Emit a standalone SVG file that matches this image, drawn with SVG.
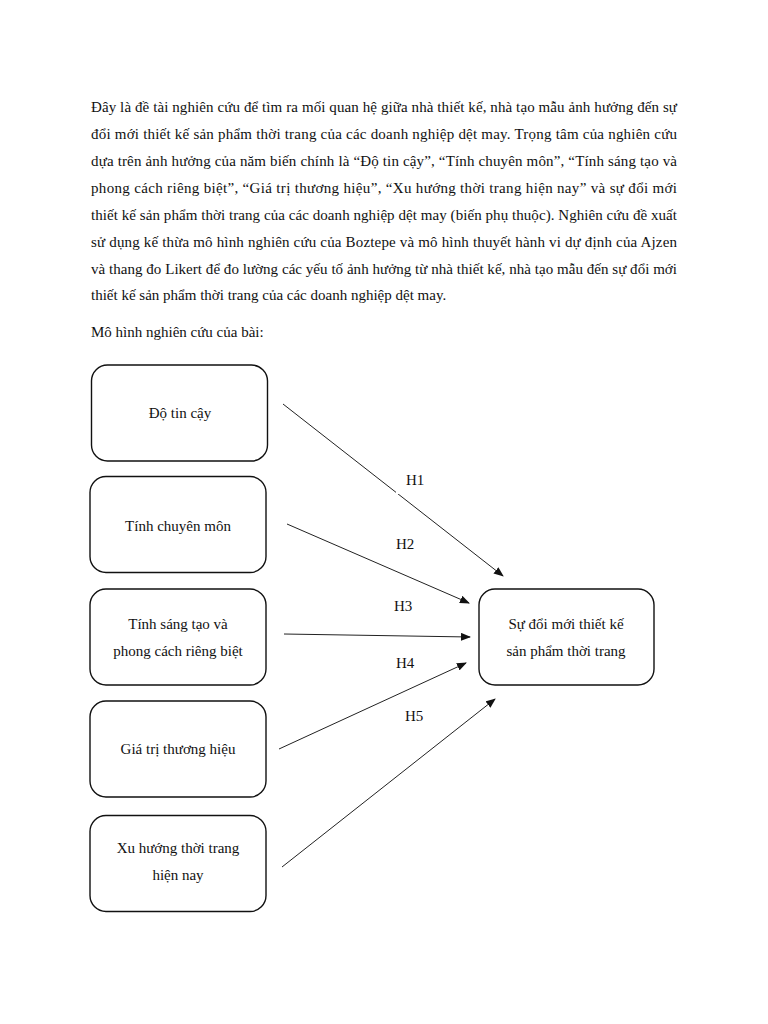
<svg xmlns="http://www.w3.org/2000/svg" width="768" height="1024" viewBox="0 0 768 1024">
<style>
text{font-family:"Liberation Serif","Times New Roman",serif;font-size:15px;fill:#111}
.c{text-anchor:middle}
.box{fill:#fff;stroke:#111;stroke-width:1.4}
.ln{stroke:#222;stroke-width:1;fill:none;marker-end:url(#ah)}
</style>
<defs>
<marker id="ah" markerWidth="10" markerHeight="8" refX="9" refY="4" orient="auto" markerUnits="userSpaceOnUse">
<path d="M0,0 L10,4 L0,8 Z" fill="#111"/>
</marker>
</defs>
<rect width="768" height="1024" fill="#fff"/>
<g id="paragraph">
<text x="91" y="112" textLength="586" lengthAdjust="spacing">Đây là đề tài nghiên cứu để tìm ra mối quan hệ giữa nhà thiết kế, nhà tạo mẫu ảnh hưởng đến sự</text>
<text x="91" y="139" textLength="586" lengthAdjust="spacing">đổi mới thiết kế sản phẩm thời trang của các doanh nghiệp dệt may. Trọng tâm của nghiên cứu</text>
<text x="91" y="166" textLength="586" lengthAdjust="spacing">dựa trên ảnh hưởng của năm biến chính là “Độ tin cậy”, “Tính chuyên môn”, “Tính sáng tạo và</text>
<text x="91" y="193" textLength="586" lengthAdjust="spacing">phong cách riêng biệt”, “Giá trị thương hiệu”, “Xu hướng thời trang hiện nay” và sự đổi mới</text>
<text x="91" y="220" textLength="586" lengthAdjust="spacing">thiết kế sản phẩm thời trang của các doanh nghiệp dệt may (biến phụ thuộc). Nghiên cứu đề xuất</text>
<text x="91" y="247" textLength="586" lengthAdjust="spacing">sử dụng kế thừa mô hình nghiên cứu của Boztepe và mô hình thuyết hành vi dự định của Ajzen</text>
<text x="91" y="274" textLength="586" lengthAdjust="spacing">và thang đo Likert để đo lường các yếu tố ảnh hưởng từ nhà thiết kế, nhà tạo mẫu  đến sự đổi mới</text>
<text x="91" y="300">thiết kế sản phẩm thời trang của các doanh nghiệp dệt may.</text>
<text x="91" y="337">Mô hình nghiên cứu của bài:</text>
</g>
<g id="connectors">
<line class="ln" x1="283" y1="404" x2="503" y2="576"/>
<line class="ln" x1="287" y1="524" x2="469" y2="603"/>
<line class="ln" x1="284" y1="634" x2="470" y2="637"/>
<line class="ln" x1="279" y1="749" x2="466" y2="663"/>
<line class="ln" x1="282" y1="867" x2="495" y2="699"/>
<rect x="396" y="488" width="10" height="6" fill="#fff"/>
<text x="406" y="485">H1</text>
<text x="396" y="549">H2</text>
<text x="394" y="611">H3</text>
<text x="396" y="668">H4</text>
<text x="405" y="721">H5</text>
</g>
<g id="n1">
<rect class="box" x="91.5" y="365" width="176" height="96" rx="16"/>
<text class="c" x="180" y="418">Độ tin cậy</text>
</g>
<g id="n2">
<rect class="box" x="90" y="476.5" width="176" height="96" rx="16"/>
<text class="c" x="178" y="531">Tính chuyên môn</text>
</g>
<g id="n3">
<rect class="box" x="90" y="589" width="176" height="96" rx="16"/>
<text class="c" x="178" y="629">Tính sáng tạo và</text>
<text class="c" x="178" y="656">phong cách riêng biệt</text>
</g>
<g id="n4">
<rect class="box" x="90" y="701" width="176" height="96" rx="16"/>
<text class="c" x="178" y="754">Giá trị thương hiệu</text>
</g>
<g id="n5">
<rect class="box" x="90" y="815.5" width="176" height="96" rx="16"/>
<text class="c" x="178" y="853">Xu hướng thời trang</text>
<text class="c" x="178" y="880">hiện nay</text>
</g>
<g id="target">
<rect class="box" x="479" y="589" width="175" height="96" rx="16"/>
<text class="c" x="566" y="629">Sự đổi mới thiết kế</text>
<text class="c" x="566" y="656">sản phẩm thời trang</text>
</g>
</svg>
